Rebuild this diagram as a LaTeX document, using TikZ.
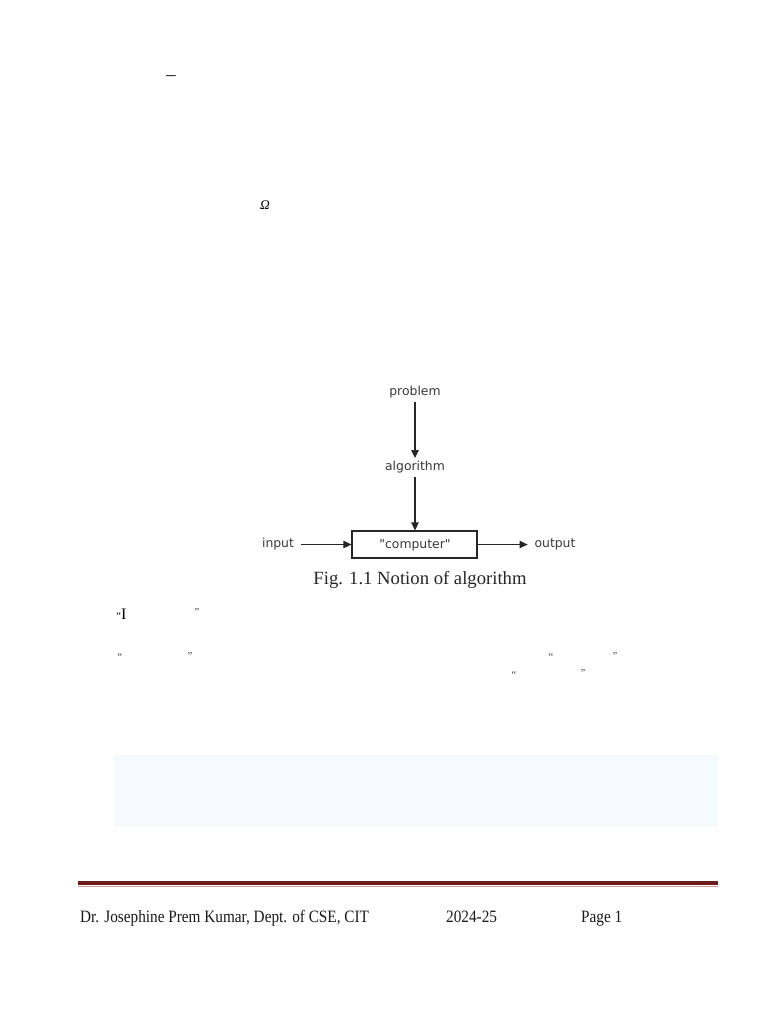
\documentclass[tikz,border=0pt]{standalone}
\usepackage{fontspec}
\setmainfont{Liberation Serif}
\newfontfamily\diagfont{DejaVu Sans}
\usetikzlibrary{arrows.meta}
\definecolor{txtgray}{HTML}{3A3A3A}
\definecolor{boxblue}{HTML}{F6F9FD}
\definecolor{rulered}{HTML}{6E1C1C}
\definecolor{rulepink}{HTML}{C99A9A}
\tikzset{
  dlabel/.style={font=\diagfont\fontsize{9.3pt}{11pt}\selectfont, text=txtgray, inner sep=0pt},
  flow/.style={draw=black!85, line width=0.9pt, -{Triangle[length=6pt,width=5.5pt]}},
  quote/.style={font=\fontsize{8pt}{9pt}\selectfont, text=black!75, inner sep=0pt},
  foot/.style={font=\fontsize{13pt}{15pt}\selectfont, text=black!90, inner sep=0pt, anchor=base west, xscale=0.88}
}
\begin{document}
\begin{tikzpicture}[x=0.75pt,y=-0.75pt]
\useasboundingbox (0,0) rectangle (768,1024);
\fill[white] (0,0) rectangle (768,1024);

% stray marks
\node[inner sep=0pt, font=\fontsize{14pt}{16pt}\selectfont] (dash) at (171,78) {–};
\node[inner sep=0pt, font=\fontsize{10pt}{12pt}\selectfont] (omega) at (265,205) {\textit{Ω}};

% diagram
\node[dlabel] (problem) at (415,392) {problem};
\node[dlabel] (algorithm) at (415,467) {algorithm};
\node[draw=black!85, line width=0.8pt, minimum width=125*0.75pt, minimum height=27*0.75pt, inner sep=0pt] (computer) at (414.5,544.5) {};
\node[dlabel] (comptext) at (415,545) {"computer"};
\node[dlabel] (input) at (278,544.5) {input};
\node[dlabel] (output) at (555,544.5) {output};
\draw[flow] ([yshift=-3pt]problem.south) -- ([yshift=2pt]algorithm.north);
\draw[flow] ([yshift=-3pt]algorithm.south) -- (algorithm.south |- computer.north);
\draw[flow] ([xshift=5pt]input.east |- computer.west) -- (computer.west);
\draw[flow] (computer.east) -- ([xshift=-5pt]output.west |- computer.east);

% caption
\node[inner sep=0pt, font=\fontsize{14pt}{16pt}\selectfont, text=black!85] (caption) at (420,580) {Fig. 1.1 Notion of algorithm};

% quote marks
\node[inner sep=0pt, anchor=west] (q1) at (116,614) {\fontsize{8pt}{9pt}\selectfont “\fontsize{12pt}{14pt}\selectfont I};
\node[quote] (q2) at (197,612) {”};
\node[quote] (q3) at (120,657) {“};
\node[quote] (q4) at (190,656) {”};
\node[quote] (q5) at (551,657) {“};
\node[quote] (q6) at (615,656) {”};
\node[quote] (q7) at (514,675) {“};
\node[quote] (q8) at (583,673) {”};

% light box
\fill[boxblue] (114,755) rectangle (718,826);

% footer rule
\draw[rulered, line width=2.4pt] (78,883) -- (718,883);
\draw[rulepink, line width=1.3pt] (78,886.5) -- (718,886.5);

% footer text
\node[foot] (author) at (80,922) {Dr. Josephine Prem Kumar, Dept. of CSE, CIT};
\node[foot] (year) at (446,922) {2024-25};
\node[foot] (page) at (581,922) {Page 1};
\end{tikzpicture}
\end{document}
